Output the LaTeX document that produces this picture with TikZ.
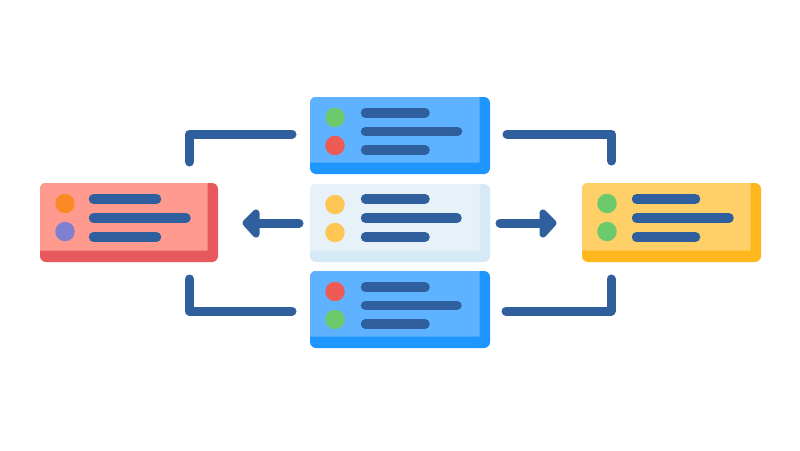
\documentclass[tikz,border=0pt]{standalone}
\usetikzlibrary{calc}
\definecolor{ink}{HTML}{2F5F9C}
\definecolor{blueL}{HTML}{5FB2FF}
\definecolor{blueD}{HTML}{1E96FF}
\definecolor{redL}{HTML}{FF9A8E}
\definecolor{redD}{HTML}{E8585F}
\definecolor{yelL}{HTML}{FFCF68}
\definecolor{yelD}{HTML}{FFB71E}
\definecolor{paleL}{HTML}{E7F2F8}
\definecolor{paleD}{HTML}{D6EAF5}
\definecolor{dotG}{HTML}{6CC96C}
\definecolor{dotR}{HTML}{EE5A54}
\definecolor{dotO}{HTML}{F98A24}
\definecolor{dotP}{HTML}{8080D0}
\definecolor{dotY}{HTML}{FFC653}
\tikzset{
  x=1pt,y=-1pt,
  cardbase/.style={rectangle,inner sep=0pt,outer sep=0pt,minimum width=#1,minimum height=78pt,rounded corners=6pt},
  bar/.style={draw=ink,line width=9.5pt,line cap=round},
  link/.style={draw=ink,line width=9pt,line cap=round,line join=round},
  head/.style={draw=ink,fill=ink,line width=7pt,line join=round},
  dot/.style={circle,inner sep=0pt,minimum size=#1},
}
% #1 name, #2 left, #3 top, #4 width, #5 height, #6 light, #7 dark,
% #8 dot1 colour, #9 dot2 colour
\newcommand{\cardshape}[9]{%
  \node[cardbase=#4 pt,minimum height=#5 pt,fill=#7] (#1) at ({#2+#4/2},{#3+#5/2}) {};
  \fill[#6] ({#2+4},#3) -- ({#2+#4-10.5},#3) -- ({#2+#4-10.5},{#3+#5-11.5})
     -- ({#2},{#3+#5-11.5}) -- ({#2},{#3+4}) to[out=-90,in=180] ({#2+4},#3) -- cycle;
  \node[dot=19.5pt,fill=#8] (#1d1) at ({#2+25},{#3+20.5}) {};
  \node[dot=19.5pt,fill=#9] (#1d2) at ({#2+25},{#3+48.5}) {};
}
\newcommand{\threebars}[5]{% x0, xshort, xlong, y-first, gap
  \draw[bar] (#1,#4) -- (#2,#4);
  \draw[bar] (#1,{#4+#5}) -- (#3,{#4+#5});
  \draw[bar] (#1,{#4+2*#5}) -- (#2,{#4+2*#5});
}
\begin{document}
\begin{tikzpicture}
\useasboundingbox[fill=white] (0,0) rectangle (800,450);
\cardshape{top}{310}{97}{180}{77}{blueL}{blueD}{dotG}{dotR}
\threebars{365.5}{425}{457.5}{113}{18.5}
\cardshape{left}{40}{183}{178}{79}{redL}{redD}{dotO}{dotP}
\threebars{93.5}{156.5}{186}{199}{19}
\cardshape{mid}{310}{184}{180}{78}{paleL}{paleD}{dotY}{dotY}
\threebars{365.5}{425}{457}{199}{19}
\cardshape{right}{582}{183}{179}{79}{yelL}{yelD}{dotG}{dotG}
\threebars{636.5}{695.5}{729}{199}{19}
\cardshape{bot}{310}{271}{180}{77}{blueL}{blueD}{dotR}{dotG}
\threebars{365.5}{425}{457}{287}{18.5}
% connector ends
\coordinate (tlA) at (292,134); \coordinate (tlB) at (189.5,134); \coordinate (tlC) at (189.5,162);
\coordinate (trA) at (507,134); \coordinate (trB) at (611.5,134); \coordinate (trC) at (611.5,161);
\coordinate (blA) at (189.5,279); \coordinate (blB) at (189.5,311); \coordinate (blC) at (292,311);
\coordinate (brA) at (611,279); \coordinate (brB) at (611,311); \coordinate (brC) at (506,311);
\draw[link] (tlA) -- (tlB) -- (tlC);
\draw[link] (trA) -- (trB) -- (trC);
\draw[link] (blA) -- (blB) -- (blC);
\draw[link] (brA) -- (brB) -- (brC);
% arrows
\coordinate (laS) at (299,223); \coordinate (laT) at (254,223);
\coordinate (raS) at (500,223); \coordinate (raT) at (546,223);
\draw[link] (laS) -- (laT);
\draw[link] (raS) -- (raT);
\draw[head] (246,223) -- (256,213) -- (256,234) -- cycle;
\draw[head] (553,223) -- (543,213) -- (543,234) -- cycle;
\end{tikzpicture}
\end{document}
